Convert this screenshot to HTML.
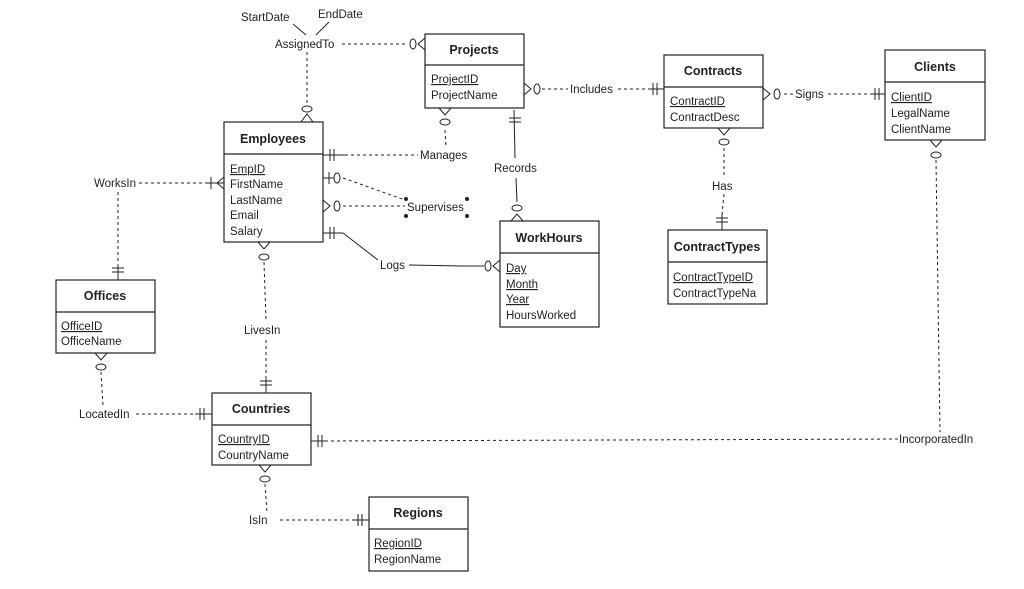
<!DOCTYPE html>
<html><head><style>body{margin:0;background:#fff}svg{display:block}text{font-family:"Liberation Sans",Arial,sans-serif;font-size:11.5px;fill:#222}.h{font-weight:bold;font-size:12.5px}</style></head><body>
<svg width="1024" height="589" viewBox="0 0 1024 589">
<g fill="none" stroke="#222" stroke-width="1.2">
<!-- entity boxes -->
<rect x="425" y="34" width="99" height="74"/><line x1="425" y1="65" x2="524" y2="65"/>
<rect x="664" y="55" width="99" height="73"/><line x1="664" y1="87" x2="763" y2="87"/>
<rect x="885" y="50" width="100" height="90"/><line x1="885" y1="82" x2="985" y2="82"/>
<rect x="224" y="122" width="99" height="120"/><line x1="224" y1="154" x2="323" y2="154"/>
<rect x="500" y="221" width="99" height="106"/><line x1="500" y1="253" x2="599" y2="253"/>
<rect x="668" y="230" width="99" height="74"/><line x1="668" y1="262" x2="767" y2="262"/>
<rect x="56" y="280" width="99" height="73"/><line x1="56" y1="312" x2="155" y2="312"/>
<rect x="212" y="393" width="99" height="72"/><line x1="212" y1="425" x2="311" y2="425"/>
<rect x="369" y="497" width="99" height="74"/><line x1="369" y1="529" x2="468" y2="529"/>
</g>
<g fill="none" stroke="#222" stroke-width="1" stroke-dasharray="3,3">
<line x1="342" y1="44" x2="408" y2="44"/>
<line x1="307" y1="52" x2="307" y2="104"/>
<line x1="542" y1="89" x2="568" y2="89"/>
<line x1="618" y1="89" x2="648" y2="89"/>
<line x1="784" y1="94" x2="794" y2="94"/>
<line x1="828" y1="94" x2="872" y2="94"/>
<line x1="445" y1="130" x2="446" y2="148"/>
<line x1="345" y1="155" x2="418" y2="155"/>
<line x1="343" y1="178" x2="405" y2="200"/>
<line x1="343" y1="206" x2="405" y2="206"/>
<line x1="139" y1="183" x2="208" y2="183"/>
<line x1="118" y1="192" x2="118" y2="266"/>
<line x1="724" y1="148" x2="724" y2="176"/>
<line x1="724" y1="194" x2="722" y2="215"/>
<line x1="936" y1="160" x2="940" y2="432"/>
<line x1="325" y1="441" x2="898" y2="439"/>
<line x1="264" y1="262" x2="266" y2="320"/>
<line x1="266" y1="340" x2="266" y2="376"/>
<line x1="101" y1="372" x2="103" y2="406"/>
<line x1="136" y1="414" x2="195" y2="414"/>
<line x1="265" y1="484" x2="267" y2="512"/>
<line x1="280" y1="520" x2="355" y2="520"/>
</g>
<g fill="none" stroke="#222" stroke-width="1">
<line x1="293" y1="24" x2="306" y2="35"/><line x1="329" y1="22" x2="316" y2="35"/>
<line x1="514" y1="110" x2="515" y2="158"/><line x1="516" y1="178" x2="517" y2="202"/>
<line x1="343" y1="233" x2="378" y2="260"/>
<line x1="409" y1="265" x2="462" y2="266"/><line x1="462" y1="266" x2="484" y2="266"/>
<!-- markers: crow's feet, bars, circles -->
<path d="M425 38 L418 44 L425 50"/><ellipse cx="413" cy="44" rx="3" ry="5"/>
<path d="M301 122 L307 114 L313 122"/><ellipse cx="307" cy="109" rx="5" ry="3"/>
<path d="M524 83 L531 89 L524 95"/><ellipse cx="537" cy="89" rx="3" ry="5"/>
<line x1="653" y1="83" x2="653" y2="95"/><line x1="657" y1="83" x2="657" y2="95"/><line x1="648" y1="89" x2="664" y2="89"/>
<path d="M763 88 L770 94 L763 100"/><ellipse cx="777" cy="94" rx="3" ry="5"/>
<line x1="875" y1="88" x2="875" y2="100"/><line x1="879" y1="88" x2="879" y2="100"/><line x1="872" y1="94" x2="885" y2="94"/>
<path d="M439 108 L445 115 L451 108"/><ellipse cx="445" cy="122" rx="5" ry="3"/>
<line x1="509" y1="118" x2="521" y2="118"/><line x1="509" y1="122" x2="521" y2="122"/>
<path d="M511 221 L517 214 L523 221"/><ellipse cx="517" cy="208" rx="5" ry="3"/>
<line x1="330" y1="149" x2="330" y2="161"/><line x1="334" y1="149" x2="334" y2="161"/><line x1="323" y1="155" x2="345" y2="155"/>
<line x1="329" y1="172" x2="329" y2="184"/><ellipse cx="337" cy="178" rx="3" ry="5"/><line x1="323" y1="178" x2="334" y2="178"/>
<path d="M323 200 L330 206 L323 212"/><ellipse cx="337" cy="206" rx="3" ry="5"/>
<line x1="330" y1="227" x2="330" y2="239"/><line x1="334" y1="227" x2="334" y2="239"/><line x1="323" y1="233" x2="343" y2="233"/>
<path d="M500 260 L493 266 L500 272"/><ellipse cx="488" cy="266" rx="3" ry="5"/>
<path d="M224 177 L217 183 L224 189"/><line x1="211" y1="177" x2="211" y2="189"/><line x1="208" y1="183" x2="224" y2="183"/>
<line x1="112" y1="268" x2="124" y2="268"/><line x1="112" y1="272" x2="124" y2="272"/><line x1="118" y1="266" x2="118" y2="280"/>
<path d="M718 128 L724 135 L730 128"/><ellipse cx="724" cy="142" rx="5" ry="3"/>
<line x1="716" y1="218" x2="728" y2="218"/><line x1="716" y1="222" x2="728" y2="222"/><line x1="722" y1="215" x2="722" y2="230"/>
<path d="M930 140 L936 147 L942 140"/><ellipse cx="936" cy="155" rx="5" ry="3"/>
<path d="M258 242 L264 249 L270 242"/><ellipse cx="264" cy="257" rx="5" ry="3"/>
<line x1="260" y1="381" x2="272" y2="381"/><line x1="260" y1="385" x2="272" y2="385"/><line x1="266" y1="376" x2="266" y2="393"/>
<path d="M95 353 L101 360 L107 353"/><ellipse cx="101" cy="367" rx="5" ry="3"/>
<line x1="200" y1="408" x2="200" y2="420"/><line x1="204" y1="408" x2="204" y2="420"/><line x1="195" y1="414" x2="212" y2="414"/>
<line x1="318" y1="435" x2="318" y2="447"/><line x1="322" y1="435" x2="322" y2="447"/><line x1="311" y1="441" x2="325" y2="441"/>
<path d="M259 465 L265 472 L271 465"/><ellipse cx="265" cy="479" rx="5" ry="3"/>
<line x1="358" y1="514" x2="358" y2="526"/><line x1="362" y1="514" x2="362" y2="526"/><line x1="355" y1="520" x2="369" y2="520"/>
</g>
<g fill="#222"><circle cx="406" cy="199" r="2"/><circle cx="467" cy="199" r="2"/><circle cx="406" cy="216" r="2"/><circle cx="467" cy="216" r="2"/></g>
<!-- labels -->
<text x="241" y="21">StartDate</text><text x="318" y="18">EndDate</text>
<text x="275" y="48">AssignedTo</text>
<text x="570" y="93">Includes</text><text x="795" y="98">Signs</text>
<text x="420" y="159">Manages</text><text x="494" y="172">Records</text>
<text x="407" y="211">Supervises</text><text x="94" y="187">WorksIn</text>
<text x="380" y="269">Logs</text><text x="712" y="190">Has</text>
<text x="244" y="334">LivesIn</text><text x="79" y="418">LocatedIn</text>
<text x="899" y="443">IncorporatedIn</text><text x="249" y="524">IsIn</text>
<text class="h" x="474" y="54" text-anchor="middle">Projects</text>
<text x="431" y="83" text-decoration="underline">ProjectID</text><text x="431" y="99">ProjectName</text>
<text class="h" x="713" y="75" text-anchor="middle">Contracts</text>
<text x="670" y="105" text-decoration="underline">ContractID</text><text x="670" y="121">ContractDesc</text>
<text class="h" x="935" y="71" text-anchor="middle">Clients</text>
<text x="891" y="101" text-decoration="underline">ClientID</text><text x="891" y="117">LegalName</text><text x="891" y="133">ClientName</text>
<text class="h" x="273" y="143" text-anchor="middle">Employees</text>
<text x="230" y="173" text-decoration="underline">EmpID</text><text x="230" y="188">FirstName</text><text x="230" y="204">LastName</text><text x="230" y="219">Email</text><text x="230" y="235">Salary</text>
<text class="h" x="549" y="242" text-anchor="middle">WorkHours</text>
<text x="506" y="272" text-decoration="underline">Day</text><text x="506" y="288" text-decoration="underline">Month</text><text x="506" y="303" text-decoration="underline">Year</text><text x="506" y="319">HoursWorked</text>
<text class="h" x="717" y="251" text-anchor="middle">ContractTypes</text>
<text x="673" y="281" text-decoration="underline">ContractTypeID</text><text x="673" y="297">ContractTypeNa</text>
<text class="h" x="105" y="300" text-anchor="middle">Offices</text>
<text x="61" y="330" text-decoration="underline">OfficeID</text><text x="61" y="345">OfficeName</text>
<text class="h" x="261" y="413" text-anchor="middle">Countries</text>
<text x="218" y="443" text-decoration="underline">CountryID</text><text x="218" y="459">CountryName</text>
<text class="h" x="418" y="517" text-anchor="middle">Regions</text>
<text x="374" y="547" text-decoration="underline">RegionID</text><text x="374" y="563">RegionName</text>
</svg></body></html>
